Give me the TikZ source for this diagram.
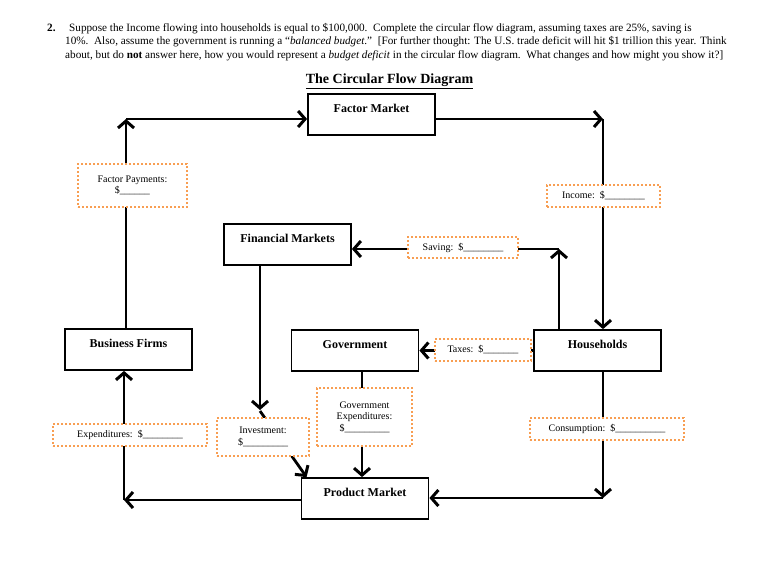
\documentclass[tikz,border=0pt]{standalone}
\usepackage{fontspec}
\setmainfont{Liberation Serif}
\usetikzlibrary{arrows.meta,backgrounds}
\definecolor{blankorange}{RGB}{248,158,82}
\newcommand{\qsize}{\fontsize{11.2}{13}\selectfont}
\newcommand{\blankline}[1]{\$\foreach \i in {1,...,#1}{\_}}
\tikzset{
  sector/.style={draw, line width=1.8pt, fill=white, minimum width=127pt,
    font=\bfseries\fontsize{12}{14}\selectfont, text height=13pt, text depth=18pt, inner ysep=5pt},
  blank/.style={draw=blankorange, line width=2pt, dash pattern=on 2pt off 2pt,
    fill=white, font=\fontsize{10}{11.5}\selectfont, align=center, inner sep=0pt},
  flow/.style={line width=2.8pt, -{Straight Barb[length=7pt, width=16pt, line width=3pt]}}
}
\begin{document}
\begin{tikzpicture}[x=1pt, y=-1pt]
  \useasboundingbox (0,0) rectangle (764,568);
  \node[anchor=base west, font=\bfseries\qsize, inner sep=0pt] (num) at (47,31) {2.};
  \node[anchor=base west, font=\qsize, inner sep=0pt] (q1) at (69,31) {Suppose the Income flowing into households is equal to \$100,000.\ \ Complete the circular flow diagram, assuming taxes are 25\%, saving is};
  \node[anchor=base west, font=\qsize, inner sep=0pt] (q2) at (65,44.5) {10\%.\ \ Also, assume the government is running a “\textit{balanced budget}.”\ \ [For further thought: The U.S. trade deficit will hit \$1 trillion this year. Think};
  \node[anchor=base west, font=\qsize, inner sep=0pt] (q3) at (65,58) {about, but do \textbf{not} answer here, how you would represent a \textit{budget deficit} in the circular flow diagram.\ \ What changes and how might you show it?]};
  \node[font=\bfseries\fontsize{14}{16}\selectfont] (title) at (389.5,81) {\underline{The Circular Flow Diagram}};

  \node[sector] (factor) at (371.5,114.5) {Factor Market};
  \node[sector] (financial) at (287.5,244.5) {Financial Markets};
  \node[sector] (firms) at (128.5,349.5) {Business Firms};
  \node[sector] (gov) at (355,350.5) {Government};
  \node[sector] (house) at (597.5,350.5) {Households};
  \node[sector] (product) at (365,498.5) {Product Market};

  \node[blank, minimum width=109pt, minimum height=43pt] (payments) at (132.5,185.5) {Factor Payments:\\ \blankline{6}};
  \node[blank, minimum width=113pt, minimum height=22pt] (income) at (603.5,196) {Income:\ \ \blankline{8}};
  \node[blank, minimum width=110pt, minimum height=21pt] (saving) at (463,247.5) {Saving:\ \ \blankline{8}};
  \node[blank, minimum width=96pt, minimum height=22pt] (taxes) at (483,350) {Taxes:\ \ \blankline{7}};
  \node[blank, minimum width=154pt, minimum height=22pt] (spend) at (130,435) {Expenditures:\ \ \blankline{8}};
  \node[blank, minimum width=92pt, minimum height=38pt] (invest) at (263,437) {Investment:\\ \blankline{9}};
  \node[blank, minimum width=95pt, minimum height=58pt] (govspend) at (364.5,417) {Government\\ Expenditures:\\ \blankline{9}};
  \node[blank, minimum width=154pt, minimum height=22pt] (consume) at (607,429) {Consumption:\ \ \blankline{10}};

  \coordinate (topleft) at (126,119);
  \coordinate (topright) at (603,119);
  \coordinate (saveturn) at (559,249);
  \coordinate (investturn) at (260,410);
  \coordinate (bottomright) at (603,498);
  \coordinate (bottomleft) at (124,500);

  \begin{pgfonlayer}{background}
    \draw[flow] (firms.north -| topleft) -- (topleft);
    \draw[flow] (topleft) -- (topleft -| factor.west);
    \draw[flow] (topright -| factor.east) -- (topright);
    \draw[flow] (topright) -- (house.north -| topright);
    \draw[flow] (house.north -| saveturn) -- (saveturn);
    \draw[flow] (saveturn) -- (saveturn -| financial.east);
    \draw[flow] (financial.south -| investturn) -- (investturn);
    \draw[flow] ([yshift=-1pt]investturn) -- ([xshift=6pt]product.north west);
    \draw[flow] (house.west) -- (gov.east);
    \draw[flow] (gov.south -| 362,0) -- (product.north -| 362,0);
    \draw[flow] (house.south -| bottomright) -- (bottomright);
    \draw[flow] (bottomright) -- (bottomright -| product.east);
    \draw[flow] (bottomleft -| product.west) -- (bottomleft);
    \draw[flow] (bottomleft) -- (firms.south -| bottomleft);
  \end{pgfonlayer}
\end{tikzpicture}
\end{document}
